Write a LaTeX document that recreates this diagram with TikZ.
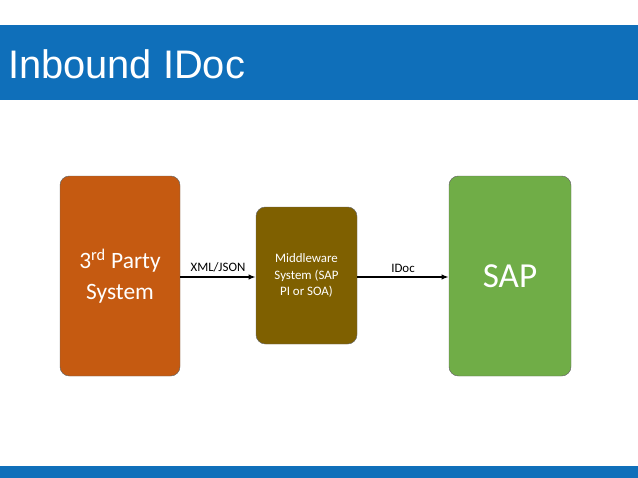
\documentclass[tikz,border=0pt]{standalone}
\usepackage{fontspec}
\setmainfont{Carlito}
\newfontfamily\titlefont{Liberation Sans}
\usetikzlibrary{positioning,arrows.meta}
\definecolor{barblue}{HTML}{0F6FBA}
\definecolor{partyorange}{HTML}{C55A11}
\definecolor{mwbrown}{HTML}{7F6000}
\definecolor{sapgreen}{HTML}{70AD47}
\tikzset{font=\footnotesize}
\tikzstyle{sys}=[draw=black!60,rounded corners=8pt,text=white,align=center,inner sep=0pt]
\tikzstyle{flow}=[-{Latex[length=6pt]},line width=1.2pt]
\tikzstyle{lbl}=[font=\fontsize{11}{13}\selectfont,above]

\begin{document}
\begin{tikzpicture}[x=0.03cm,y=-0.03cm]
	\useasboundingbox (0,0) rectangle (638,478);
	\fill[barblue] (0,25) rectangle (638,100);
	\fill[barblue] (0,466) rectangle (638,478);
	\node [anchor=west,text=white,font=\titlefont\fontsize{34}{40}\selectfont] (title) at (4,64) {Inbound IDoc};
	\node [style=sys,fill=partyorange,minimum width=120*0.03cm,minimum height=200*0.03cm,font=\fontsize{20}{26}\selectfont] (party) at (120,276) {3\textsuperscript{rd} Party\\System};
	\node [style=sys,fill=mwbrown,minimum width=101*0.03cm,minimum height=137*0.03cm,font=\fontsize{11}{14}\selectfont] (mw) at (306.5,275.5) {Middleware\\System (SAP\\PI or SOA)};
	\node [style=sys,fill=sapgreen,minimum width=122*0.03cm,minimum height=200*0.03cm,font=\fontsize{30}{36}\selectfont] (sap) at (510,276) {SAP};
	\draw[style=flow] (party.east|-0,277) to node [style=lbl] {XML/JSON} (mw.west|-0,277);
	\draw[style=flow] (mw.east|-0,277) to node [style=lbl] {IDoc} (sap.west|-0,277);
\end{tikzpicture}
\end{document}
